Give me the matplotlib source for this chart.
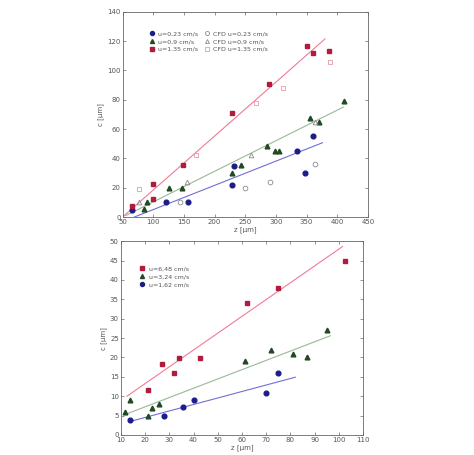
import matplotlib
matplotlib.use("Agg")
import matplotlib.pyplot as plt

# ---- top panel: experiment vs CFD ----
z_023 = [65, 121, 157, 228, 232, 335, 348, 360]
c_023 = [5, 10, 10, 22, 35, 45, 30, 55]
z_09 = [84, 90, 126, 146, 228, 243, 285, 299, 305, 355, 370, 411]
c_09 = [5.5, 10, 20, 20, 30, 35.5, 48.5, 45, 45, 67.5, 65, 79.5]
z_135 = [65, 99, 99, 149, 228, 289, 350, 360, 386]
c_135 = [7.5, 22.4, 12, 35.4, 71, 91, 117, 112, 113.5]

z_cfd_023 = [144, 249, 290, 363]
c_cfd_023 = [10, 20, 24, 36]
z_cfd_09 = [77, 155, 259, 363]
c_cfd_09 = [10, 24, 42.5, 64.5]
z_cfd_135 = [77, 170, 268, 311, 389]
c_cfd_135 = [19, 42.5, 78, 88, 105.5]

fit_z_023, fit_c_023 = [69, 376], [0, 50.7]
fit_z_09, fit_c_09 = [55, 410], [1, 75]
fit_z_135, fit_c_135 = [51, 380], [0.5, 121.5]

# ---- bottom panel ----
z_648 = [21, 26.9, 32, 34, 42.8, 61.9, 74.8, 102.4]
c_648 = [11.7, 18.4, 16, 19.9, 19.9, 34, 38, 45]
z_324 = [11.8, 13.8, 21, 23, 25.8, 61.4, 72, 81, 87, 95]
c_324 = [6, 9, 5, 7, 8, 19, 22, 21, 20, 27]
z_162 = [13.8, 27.9, 35.8, 40, 69.8, 74.8]
c_162 = [3.9, 5, 7.1, 8.9, 10.9, 16]

fit_z_648, fit_c_648 = [12.5, 101.5], [10, 48.6]
fit_z_324, fit_c_324 = [11.4, 96.5], [5.2, 25.6]
fit_z_162, fit_c_162 = [14.5, 82], [3.6, 14.9]

BLUE = "#1c1c8a"
GREEN = "#1f4a22"
RED = "#b01c3c"
LBLUE = "#6f6fd6"
LGREEN = "#98b898"
LRED = "#f07a96"
GRAY = "#8a8a8a"
PINK = "#e89aa8"
TXT = "#555555"

plt.rcParams["font.family"] = ["DejaVu Sans"]

fig = plt.figure(figsize=(4.74, 4.55), dpi=100)
ax1 = fig.add_axes([0.259, 0.523, 0.517, 0.451])
ax2 = fig.add_axes([0.255, 0.044, 0.511, 0.426])

ms = 3.4
ax1.plot(fit_z_023, fit_c_023, color=LBLUE, lw=0.8)
ax1.plot(fit_z_09, fit_c_09, color=LGREEN, lw=0.8)
ax1.plot(fit_z_135, fit_c_135, color=LRED, lw=0.8)
h1, = ax1.plot(z_023, c_023, "o", color=BLUE, ms=ms, ls="none", label="u=0,23 cm/s")
h2, = ax1.plot(z_09, c_09, "^", color=GREEN, ms=ms, ls="none", label="u=0,9 cm/s")
h3, = ax1.plot(z_135, c_135, "s", color=RED, ms=ms, ls="none", label="u=1.35 cm/s")
h4, = ax1.plot(z_cfd_023, c_cfd_023, "o", mfc="none", mec=GRAY, mew=0.6, ms=ms, ls="none",
               label="CFD u=0,23 cm/s")
h5, = ax1.plot(z_cfd_09, c_cfd_09, "^", mfc="none", mec=GRAY, mew=0.6, ms=ms, ls="none",
               label="CFD u=0,9 cm/s")
h6, = ax1.plot(z_cfd_135, c_cfd_135, "s", mfc="none", mec=PINK, mew=0.6, ms=ms, ls="none",
               label="CFD u=1.35 cm/s")
ax1.set_xlim(50, 450)
ax1.set_ylim(0, 140)
ax1.set_xticks(range(50, 451, 50))
ax1.set_yticks(range(0, 141, 20))
ax1.set_xlabel("z [µm]", fontsize=5, labelpad=1, color=TXT)
ax1.set_ylabel("c [µm]", fontsize=5, labelpad=2, color=TXT)
leg1 = ax1.legend(handles=[h1, h2, h3, h4, h5, h6], ncol=2, fontsize=4.5, frameon=False,
                  loc="upper left", bbox_to_anchor=(0.08, 0.935), handlelength=1.2,
                  handletextpad=0.4, columnspacing=0.8, labelspacing=0.4, markerscale=0.85)

ax2.plot(fit_z_648, fit_c_648, color=LRED, lw=0.8)
ax2.plot(fit_z_324, fit_c_324, color=LGREEN, lw=0.8)
ax2.plot(fit_z_162, fit_c_162, color=LBLUE, lw=0.8)
g1, = ax2.plot(z_648, c_648, "s", color=RED, ms=ms, ls="none", label="u=6,48 cm/s")
g2, = ax2.plot(z_324, c_324, "^", color=GREEN, ms=ms, ls="none", label="u=3,24 cm/s")
g3, = ax2.plot(z_162, c_162, "o", color=BLUE, ms=ms, ls="none", label="u=1,62 cm/s")
ax2.set_xlim(10, 110)
ax2.set_ylim(0, 50)
ax2.set_xticks(range(10, 111, 10))
ax2.set_yticks(range(0, 51, 5))
ax2.set_xlabel("z [µm]", fontsize=5, labelpad=1, color=TXT)
ax2.set_ylabel("c [µm]", fontsize=5, labelpad=2, color=TXT)
leg2 = ax2.legend(handles=[g1, g2, g3], fontsize=4.5, frameon=False, loc="upper left",
                  bbox_to_anchor=(0.05, 0.90), handlelength=1.2, handletextpad=0.4,
                  labelspacing=0.4, markerscale=0.85)

for leg in (leg1, leg2):
    for t in leg.get_texts():
        t.set_color(TXT)

for ax in (ax1, ax2):
    ax.tick_params(direction="in", top=True, right=True, labelsize=5, length=2.5,
                   width=0.5, pad=1.5, colors="#666666", labelcolor=TXT)
    for s in ax.spines.values():
        s.set_linewidth(0.6)
        s.set_color("#666666")

fig.savefig("out.png", dpi=100, facecolor="white")
